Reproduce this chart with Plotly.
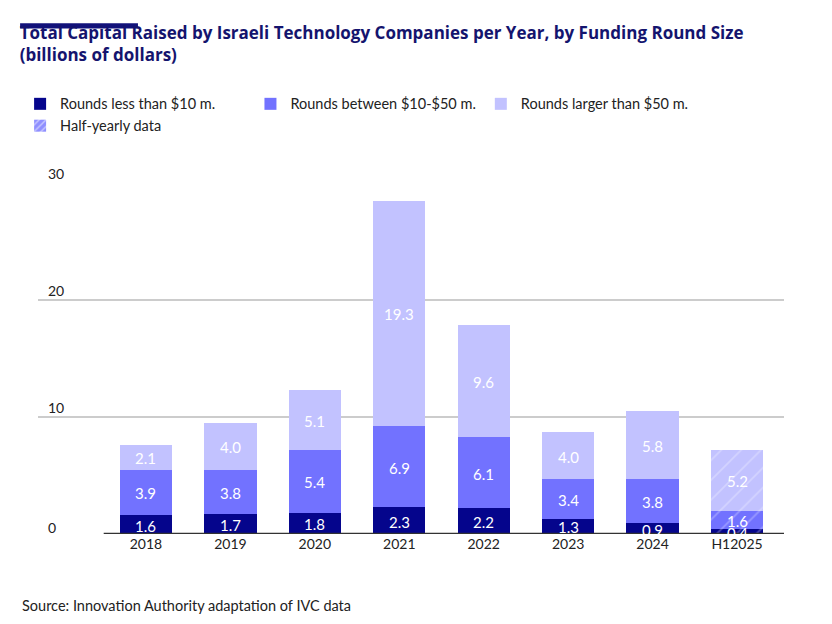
import plotly.graph_objects as go

years = ["2018", "2019", "2020", "2021", "2022", "2023", "2024", "H12025"]
small = [1.6, 1.7, 1.8, 2.3, 2.2, 1.3, 0.9, 0.4]
mid = [3.9, 3.8, 5.4, 6.9, 6.1, 3.4, 3.8, 1.6]
large = [2.1, 4.0, 5.1, 19.3, 9.6, 4.0, 5.8, 5.2]
yticks = [0, 10, 20, 30]

names = ["Rounds less than $10 m.", "Rounds between $10-$50 m.", "Rounds larger than $50 m."]
colors = ["#05058c", "#7272ff", "#c2c2ff"]
series = [small, mid, large]
FONT = "Lato"

fig = go.Figure()
for name, col, vals in zip(names, colors, series):
    fig.add_trace(go.Bar(
        x=years, y=vals, name=name, width=0.62,
        marker=dict(color=col, line_width=0,
                    pattern=dict(shape=[""] * (len(years) - 1) + ["/"],
                                 fgcolor="rgba(255,255,255,0.55)", size=14, solidity=0.12)),
    ))
fig.add_trace(go.Bar(x=[None], y=[None], name="Half-yearly data",
                     marker=dict(color="#8f8fff", line_width=0,
                                 pattern=dict(shape="/", fgcolor="white", size=6, solidity=0.3))))

# value labels (x as category index)
for i, yr in enumerate(years):
    base = 0
    for vals in series:
        v = vals[i]
        fig.add_annotation(x=i, y=base + v / 2, text=f"{v:.1f}", showarrow=False,
                           font=dict(color="white", size=15, family=FONT), yshift=-1)
        base += v

for t in yticks:
    fig.add_annotation(x=0, xref="paper", y=t, text=str(t), showarrow=False,
                       xanchor="left", yanchor="bottom", xshift=8, yshift=-4 if t == 0 else -1,
                       font=dict(size=14, color="#222", family=FONT))

fig.add_shape(type="line", xref="x", yref="y", x0=-0.5, x1=7.556, y0=0, y1=0,
              line=dict(color="#333", width=2.5))
fig.add_shape(type="rect", xref="paper", yref="paper", x0=-0.024, x1=0.134, y0=1.44, y1=1.455,
              fillcolor="#12127a", line_width=0)

fig.update_layout(
    width=832, height=624, barmode="stack", bargap=0.38,
    plot_bgcolor="white", paper_bgcolor="white",
    margin=dict(l=30, r=56, t=175, b=98, autoexpand=False),
    font=dict(family=FONT, color="#222"),
    title=dict(text="<b>Total Capital Raised by Israeli Technology Companies per Year, by Funding Round Size<br>(billions of dollars)</b>",
               x=0.014, xanchor="left", y=0.95, yanchor="top",
               font=dict(size=17, color="#14146e", family="Open Sans")),
    legend=dict(orientation="h", x=-0.024, xanchor="left", y=1.194, yanchor="middle",
                font=dict(size=14.5, family=FONT), itemwidth=30, traceorder="normal"),
    xaxis=dict(type="category", range=[-1.278, 7.556], showline=False, ticks="",
               tickfont=dict(size=14, color="#222")),
    yaxis=dict(range=[0, 30], showticklabels=False, showgrid=True, gridcolor="#cccccc",
               gridwidth=1.5, zeroline=False, tickvals=yticks),
)
fig.add_annotation(text="Source: Innovation Authority adaptation of IVC data", xref="paper", yref="paper",
                   x=-0.024, y=-0.205, xanchor="left", yanchor="middle", showarrow=False,
                   font=dict(size=14.5, color="#222", family=FONT))
fig.write_html("out.html")
